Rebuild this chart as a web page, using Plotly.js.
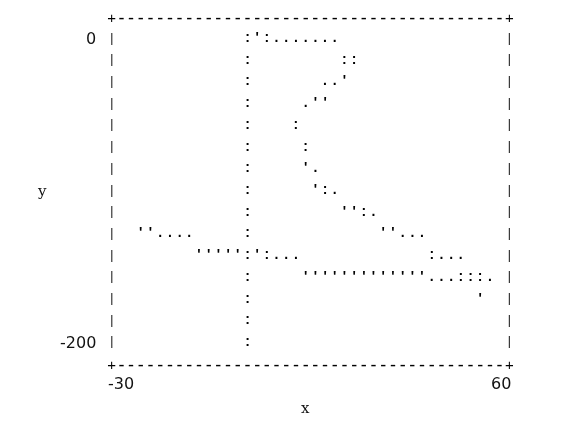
<!DOCTYPE html>
<html>
<head>
<meta charset="utf-8">
<script src="https://cdn.plot.ly/plotly-3.0.1.min.js"></script>
<style>
  html, body { margin: 0; padding: 0; background: #fff; }
  #plot { width: 588px; height: 427px; opacity: 0.995; will-change: transform; }
</style>
</head>
<body>
<div id="plot"></div>
<script>
    // --- DATA (dot positions) ---
    const vertX = [0, 0, 0, 0, 0, 0, 0, 0, 0, 0, 0, 0, 0, 0, 0, 0, 0, 0, 0, 0, 0, 0, 0, 0, 0, 0, 0, 0, 0, 0];
    const vertY = [3.6, -3.6, -10.7, -17.9, -25.0, -32.1, -39.3, -46.4, -53.6, -60.7,
                   -67.9, -75.0, -82.1, -89.3, -96.4, -103.6, -110.7, -117.9, -125.0, -132.1,
                   -139.3, -146.4, -153.6, -160.7, -167.9, -175.0, -182.1, -189.3, -196.4, -203.6];

    const upperX = [2.9, 5.1, 5.1, 7.3, 9.5, 11.7, 13.9, 16.1, 18.3, 20.5,
                    22.7, 22.7, 24.9, 24.9, 22.7, 20.5, 18.3, 18.3, 16.1, 13.9,
                    11.7, 11.7, 13.9, 13.9, 13.9, 16.1, 16.1, 18.3, 18.3, 20.5,
                    22.7, 24.9, 27.1, 27.1, 29.3, 31.5, 33.7, 35.9, 38.0, 40.2,
                    42.4, 42.4, 44.6, 46.8, 49.0, 49.0, 49.0, 51.2, 51.2, 53.4,
                    53.4, 55.6, 53.4];
    const upperY = [3.6, 3.6, -3.6, -3.6, -3.6, -3.6, -3.6, -3.6, -3.6, -3.6,
                    -10.7, -17.9, -10.7, -17.9, -25.0, -32.1, -32.1, -39.3, -39.3, -46.4,
                    -53.6, -60.7, -67.9, -75.0, -82.1, -89.3, -96.4, -96.4, -103.6, -103.6,
                    -110.7, -110.7, -110.7, -117.9, -117.9, -125.0, -125.0, -132.1, -132.1, -132.1,
                    -139.3, -146.4, -146.4, -146.4, -146.4, -153.6, -160.7, -153.6, -160.7, -153.6,
                    -160.7, -160.7, -167.9];

    const lowerX = [-23.4, -21.2, -19.0, -16.8, -14.6, -12.4, -10.2, -8.0, -5.9, -3.7,
                    -1.5, 2.9, 5.1, 5.1, 7.3, 9.5, 11.7, 13.9, 16.1, 18.3,
                    20.5, 22.7, 24.9, 27.1, 29.3, 31.5, 33.7, 35.9, 38.0, 40.2,
                    42.4, 44.6, 46.8];
    const lowerY = [-125.0, -125.0, -132.1, -132.1, -132.1, -132.1, -139.3, -139.3, -139.3, -139.3,
                    -139.3, -139.3, -139.3, -146.4, -146.4, -146.4, -146.4, -153.6, -153.6, -153.6,
                    -153.6, -153.6, -153.6, -153.6, -153.6, -153.6, -153.6, -153.6, -153.6, -153.6,
                    -160.7, -160.7, -160.7];

    const xTicks = [-30, 60];
    const yTicks = [0, -200];
    const xTitle = 'x';
    const yTitle = 'y';

    // --- CHARACTER GRID: two dots per cell, ' = top, . = bottom, : = both ---
    const COLS = 41, ROWS = 14;
    const xMin = xTicks[0], xMax = xTicks[1];
    const yMax = yTicks[0], yMin = yTicks[1];
    const dx = (xMax - xMin) / COLS;
    const dy = (yMax - yMin) / ROWS;

    const cells = {};
    function addDots(xs, ys) {
        xs.forEach(function(x, i) {
            const col = Math.round((x - xMin) / dx);
            const u = (yMax - ys[i]) / dy + 0.5;
            const row = Math.floor(u);
            const key = col + ',' + row;
            if (!cells[key]) cells[key] = { col: col, row: row, up: false, low: false };
            if (u - row < 0.5) cells[key].up = true; else cells[key].low = true;
        });
    }
    addDots(vertX, vertY);
    addDots(upperX, upperY);
    addDots(lowerX, lowerY);

    const gx = [], gy = [], gt = [];
    Object.keys(cells).forEach(function(k) {
        const c = cells[k];
        gx.push(xMin + c.col * dx);
        gy.push(yMax - c.row * dy);
        gt.push(c.up && c.low ? ':' : (c.up ? "'" : '.'));
    });

    // frame: +----+ top and bottom, | down the sides
    const edgeNudge = 1.5;  // hyphens sit a little high in the font
    const fx = [], fy = [], ft = [], fs = [];
    for (let c = 0; c <= COLS; c++) {
        const corner = (c === 0 || c === COLS);
        fx.push(xMin + c * dx, xMin + c * dx);
        fy.push(yMax + dy - edgeNudge, yMin - dy - edgeNudge);
        ft.push(corner ? '+' : '-', corner ? '+' : '-');
        fs.push(corner ? 15 : 18, corner ? 15 : 18);
    }
    for (let r = 0; r <= ROWS; r++) {
        fx.push(xMin, xMax);
        fy.push(yMax - r * dy, yMax - r * dy);
        ft.push('|', '|');
        fs.push(12, 12);
    }

    const sans = 'Liberation Sans, Arial, sans-serif';
    const glyphFont = { family: sans, size: 14, weight: 'bold', color: '#000' };
    const frameFont = { family: sans, size: fs, color: '#000' };
    const labelFont = { family: 'DejaVu Sans, sans-serif', size: 16, color: '#111' };
    const titleFont = { family: 'DejaVu Serif, serif', size: 15, color: '#111' };

    const traces = [
        { type: 'scatter', mode: 'text', x: fx, y: fy, text: ft, textposition: 'middle center',
          textfont: frameFont, cliponaxis: false, hoverinfo: 'skip', showlegend: false },
        { type: 'scatter', mode: 'text', x: gx, y: gy, text: gt, textposition: 'middle center',
          textfont: glyphFont, cliponaxis: false, hoverinfo: 'skip', showlegend: false }
    ];

    const annotations = [
        { x: xTicks[0], y: yMin, xref: 'x', yref: 'y', text: String(xTicks[0]), showarrow: false,
          xanchor: 'left', yanchor: 'middle', xshift: -6, yshift: -41, font: labelFont },
        { x: xTicks[1], y: yMin, xref: 'x', yref: 'y', text: String(xTicks[1]), showarrow: false,
          xanchor: 'right', yanchor: 'middle', xshift: 4, yshift: -41, font: labelFont },
        { x: xMin, y: yTicks[0], xref: 'x', yref: 'y', text: String(yTicks[0]), showarrow: false,
          xanchor: 'right', yanchor: 'middle', xshift: -14, font: labelFont },
        { x: xMin, y: yTicks[1], xref: 'x', yref: 'y', text: String(yTicks[1]), showarrow: false,
          xanchor: 'right', yanchor: 'middle', xshift: -14, font: labelFont },
        { x: (xMin + xMax) / 2, y: yMin, xref: 'x', yref: 'y', text: xTitle, showarrow: false,
          xanchor: 'center', yanchor: 'middle', xshift: -5, yshift: -66, font: titleFont },
        { x: xMin, y: (yMin + yMax) / 2, xref: 'x', yref: 'y', text: yTitle, showarrow: false,
          xanchor: 'center', yanchor: 'middle', xshift: -70, font: titleFont }
    ];

    // axis ranges padded so the frame glyphs stay inside
    const layout = {
        width: 588,
        height: 427,
        margin: { l: 102, r: 69, t: 6, b: 52, autoexpand: false },
        paper_bgcolor: '#fff',
        plot_bgcolor: '#fff',
        xaxis: { range: [xMin - dx, xMax + dx], visible: false, fixedrange: true },
        yaxis: { range: [yMin - 1.5 * dy, yMax + 1.5 * dy], visible: false, fixedrange: true },
        annotations: annotations,
        showlegend: false
    };

    Plotly.newPlot('plot', traces, layout, { displayModeBar: false, staticPlot: true });
</script>
</body>
</html>
